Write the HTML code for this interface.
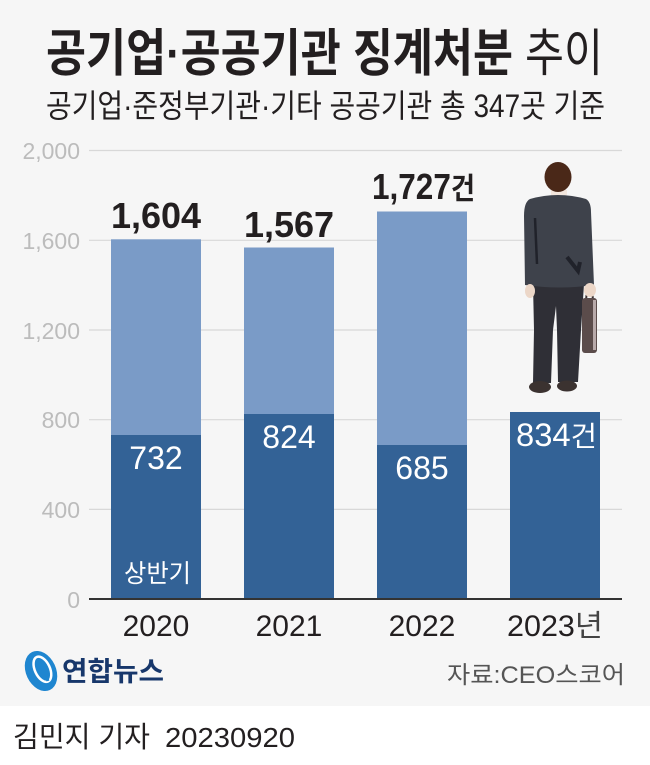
<!DOCTYPE html>
<html>
<head>
<meta charset="utf-8">
<style>
  html,body{margin:0;padding:0;background:#ffffff;}
  svg{display:block;}
  .kr{font-family:"Liberation Sans","Noto Sans CJK KR",sans-serif;}
</style>
</head>
<body>
<svg width="650" height="765" viewBox="0 0 650 765" xmlns="http://www.w3.org/2000/svg">
  <!-- background -->
  <rect x="0" y="0" width="650" height="706" fill="#f6f6f6"/>
  <rect x="0" y="706" width="650" height="59" fill="#ffffff"/>

  <!-- title -->
  <text class="kr" x="46" y="71" font-size="51" font-weight="bold" fill="#231f20" textLength="467" lengthAdjust="spacingAndGlyphs">공기업·공공기관 징계처분</text>
  <text class="kr" x="525" y="71" font-size="51" fill="#231f20" textLength="78" lengthAdjust="spacingAndGlyphs">추이</text>
  <!-- subtitle -->
  <text class="kr" x="46" y="117" font-size="32" fill="#231f20" textLength="559" lengthAdjust="spacingAndGlyphs">공기업·준정부기관·기타 공공기관 총 347곳 기준</text>

  <!-- gridlines -->
  <g stroke="#d8d8d8" stroke-width="1.2">
    <line x1="89" y1="150.5" x2="622" y2="150.5"/>
    <line x1="89" y1="240.3" x2="622" y2="240.3"/>
    <line x1="89" y1="330" x2="622" y2="330"/>
    <line x1="89" y1="419.7" x2="622" y2="419.7"/>
    <line x1="89" y1="509.4" x2="622" y2="509.4"/>
  </g>

  <!-- y labels -->
  <g font-family="Liberation Sans, sans-serif" font-size="23" fill="#bcbcbc" text-anchor="end">
    <text x="80" y="159">2,000</text>
    <text x="80" y="249">1,600</text>
    <text x="80" y="339">1,200</text>
    <text x="80" y="428">800</text>
    <text x="80" y="518">400</text>
    <text x="80" y="608">0</text>
  </g>

  <!-- bars -->
  <rect x="111" y="239.3" width="90" height="195.7" fill="#7a9bc7"/>
  <rect x="111" y="435" width="90" height="164" fill="#336296"/>
  <rect x="244" y="247.5" width="90" height="166.5" fill="#7a9bc7"/>
  <rect x="244" y="414" width="90" height="185" fill="#336296"/>
  <rect x="377" y="211.5" width="90" height="233.5" fill="#7a9bc7"/>
  <rect x="377" y="445" width="90" height="154" fill="#336296"/>
  <rect x="510" y="412" width="90" height="187" fill="#336296"/>

  <!-- baseline -->
  <line x1="89" y1="599" x2="622" y2="599" stroke="#333333" stroke-width="2"/>

  <!-- total labels -->
  <g font-family="Liberation Sans, 'Noto Sans CJK KR', sans-serif" font-weight="bold" font-size="36" fill="#231f20" text-anchor="middle">
    <text x="156" y="228">1,604</text>
    <text x="289" y="237">1,567</text>
  </g>
  <text class="kr" x="372" y="199" font-size="36" font-weight="bold" fill="#231f20" textLength="103" lengthAdjust="spacingAndGlyphs">1,727<tspan font-size="30">건</tspan></text>

  <!-- inner labels -->
  <g font-family="Liberation Sans, sans-serif" font-size="32" fill="#ffffff" text-anchor="middle">
    <text x="156" y="469">732</text>
    <text x="289" y="448">824</text>
    <text x="422" y="479">685</text>
  </g>
  <text class="kr" x="516" y="446" font-size="32" fill="#ffffff" textLength="81" lengthAdjust="spacingAndGlyphs">834<tspan font-size="28">건</tspan></text>
  <text class="kr" x="124" y="582" font-size="25" fill="#ffffff" textLength="67" lengthAdjust="spacingAndGlyphs">상반기</text>

  <!-- x labels -->
  <g font-family="Liberation Sans, sans-serif" font-size="30" fill="#231f20" text-anchor="middle">
    <text x="156" y="636">2020</text>
    <text x="289" y="636">2021</text>
    <text x="422" y="636">2022</text>
  </g>
  <text class="kr" x="507" y="636" font-size="30" fill="#231f20" textLength="96" lengthAdjust="spacingAndGlyphs">2023<tspan fill="#444">년</tspan></text>

  <!-- man illustration -->
  <g>
    <path d="M586 300 L587 291 L592 291 L593 300" fill="none" stroke="#3a3030" stroke-width="2"/>
    <!-- pants -->
    <path d="M533 284 L584 284 L581 330 L578 382 L558 382 L557 330 L556 306 L553 330 L551 383 L533 383 L534 330 Z" fill="#2f2f36"/>
    <!-- shoes -->
    <ellipse cx="540" cy="387" rx="11" ry="6" fill="#3b3230"/>
    <ellipse cx="567" cy="386" rx="10" ry="5.5" fill="#3b3230"/>
    <!-- jacket -->
    <path d="M530 199 Q558 191 586 199 Q591 202 591 212 L594 285 Q560 290 525 285 L524 216 Q524 202 530 199 Z" fill="#3e424b"/>
    <path d="M535 218 L537 264" stroke="#20222a" stroke-width="2.5"/>
    <path d="M567 257 L578 271 L580 262" fill="none" stroke="#20222a" stroke-width="4"/>
    <!-- collar -->
    <rect x="551" y="190" width="16" height="5" fill="#f2e6dd"/>
    <!-- head -->
    <ellipse cx="558" cy="177" rx="13.5" ry="15" fill="#4a2818"/>
    <!-- hands -->
    <ellipse cx="530" cy="291" rx="5" ry="7" fill="#ecd7c8"/>
    <ellipse cx="590" cy="290" rx="6" ry="7" fill="#ecd7c8"/>
    <!-- briefcase -->
    <rect x="582" y="298" width="15" height="55" rx="3" fill="#5b4c4b"/>
    <rect x="593" y="300" width="3" height="50" fill="#b7a9a9"/>
  </g>

  <!-- logo -->
  <g transform="translate(41,671) rotate(-25)">
    <ellipse cx="0" cy="0" rx="15" ry="21" fill="#1f86d0"/>
    <ellipse cx="2" cy="-1" rx="7.5" ry="13.5" fill="none" stroke="#ffffff" stroke-width="2.5"/>
    <path d="M-2 -8 L4 2 L2 12" fill="none" stroke="#1f86d0" stroke-width="3"/>
  </g>
  <text class="kr" x="62" y="681" font-size="27" font-weight="bold" fill="#17376b" textLength="102" lengthAdjust="spacingAndGlyphs">연합뉴스</text>

  <!-- source -->
  <text class="kr" x="447" y="683" font-size="24" fill="#555555" textLength="178" lengthAdjust="spacingAndGlyphs">자료:CEO스코어</text>

  <!-- byline -->
  <text class="kr" x="13" y="747" font-size="29" fill="#231f20" textLength="137" lengthAdjust="spacingAndGlyphs">김민지 기자</text>
  <text x="165" y="747" font-family="Liberation Sans, sans-serif" font-size="28" fill="#231f20" textLength="130" lengthAdjust="spacingAndGlyphs">20230920</text>
</svg>
</body>
</html>
